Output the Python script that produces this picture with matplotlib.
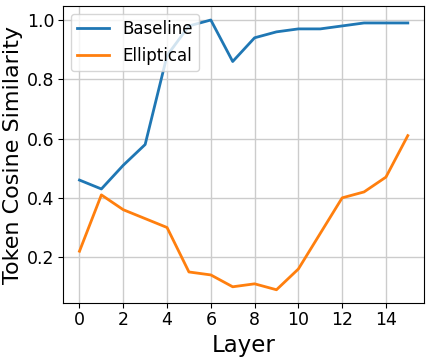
import matplotlib
matplotlib.use("Agg")
import matplotlib.pyplot as plt

layers = list(range(16))
baseline = [0.46, 0.43, 0.51, 0.58, 0.88, 0.98, 1.00, 0.86, 0.94, 0.96, 0.97, 0.97, 0.98, 0.99, 0.99, 0.99]
elliptical = [0.22, 0.41, 0.36, 0.33, 0.30, 0.15, 0.14, 0.10, 0.11, 0.09, 0.16, 0.28, 0.40, 0.42, 0.47, 0.61]

fig, ax = plt.subplots(figsize=(4.32, 3.57), dpi=100)
fig.subplots_adjust(left=0.146, right=0.982, top=0.983, bottom=0.151)

ax.plot(layers, baseline, color="#1f77b4", linewidth=2, label="Baseline")
ax.plot(layers, elliptical, color="#ff7f0e", linewidth=2, label="Elliptical")

ax.set_xticks(range(0, 16, 2))
ax.set_yticks([0.2, 0.4, 0.6, 0.8, 1.0])
ax.set_ylim(0.045, 1.047)
ax.tick_params(labelsize=12.5, pad=2.5)
ax.set_xlabel("Layer", fontsize=16.5, labelpad=3)
ax.set_ylabel("Token Cosine Similarity", fontsize=16, labelpad=3)
ax.grid(True, color="#cccccc", linewidth=1)
ax.legend(loc="upper left", fontsize=12, borderaxespad=0.45, handlelength=1.9)

fig.savefig("out.png", dpi=100)
